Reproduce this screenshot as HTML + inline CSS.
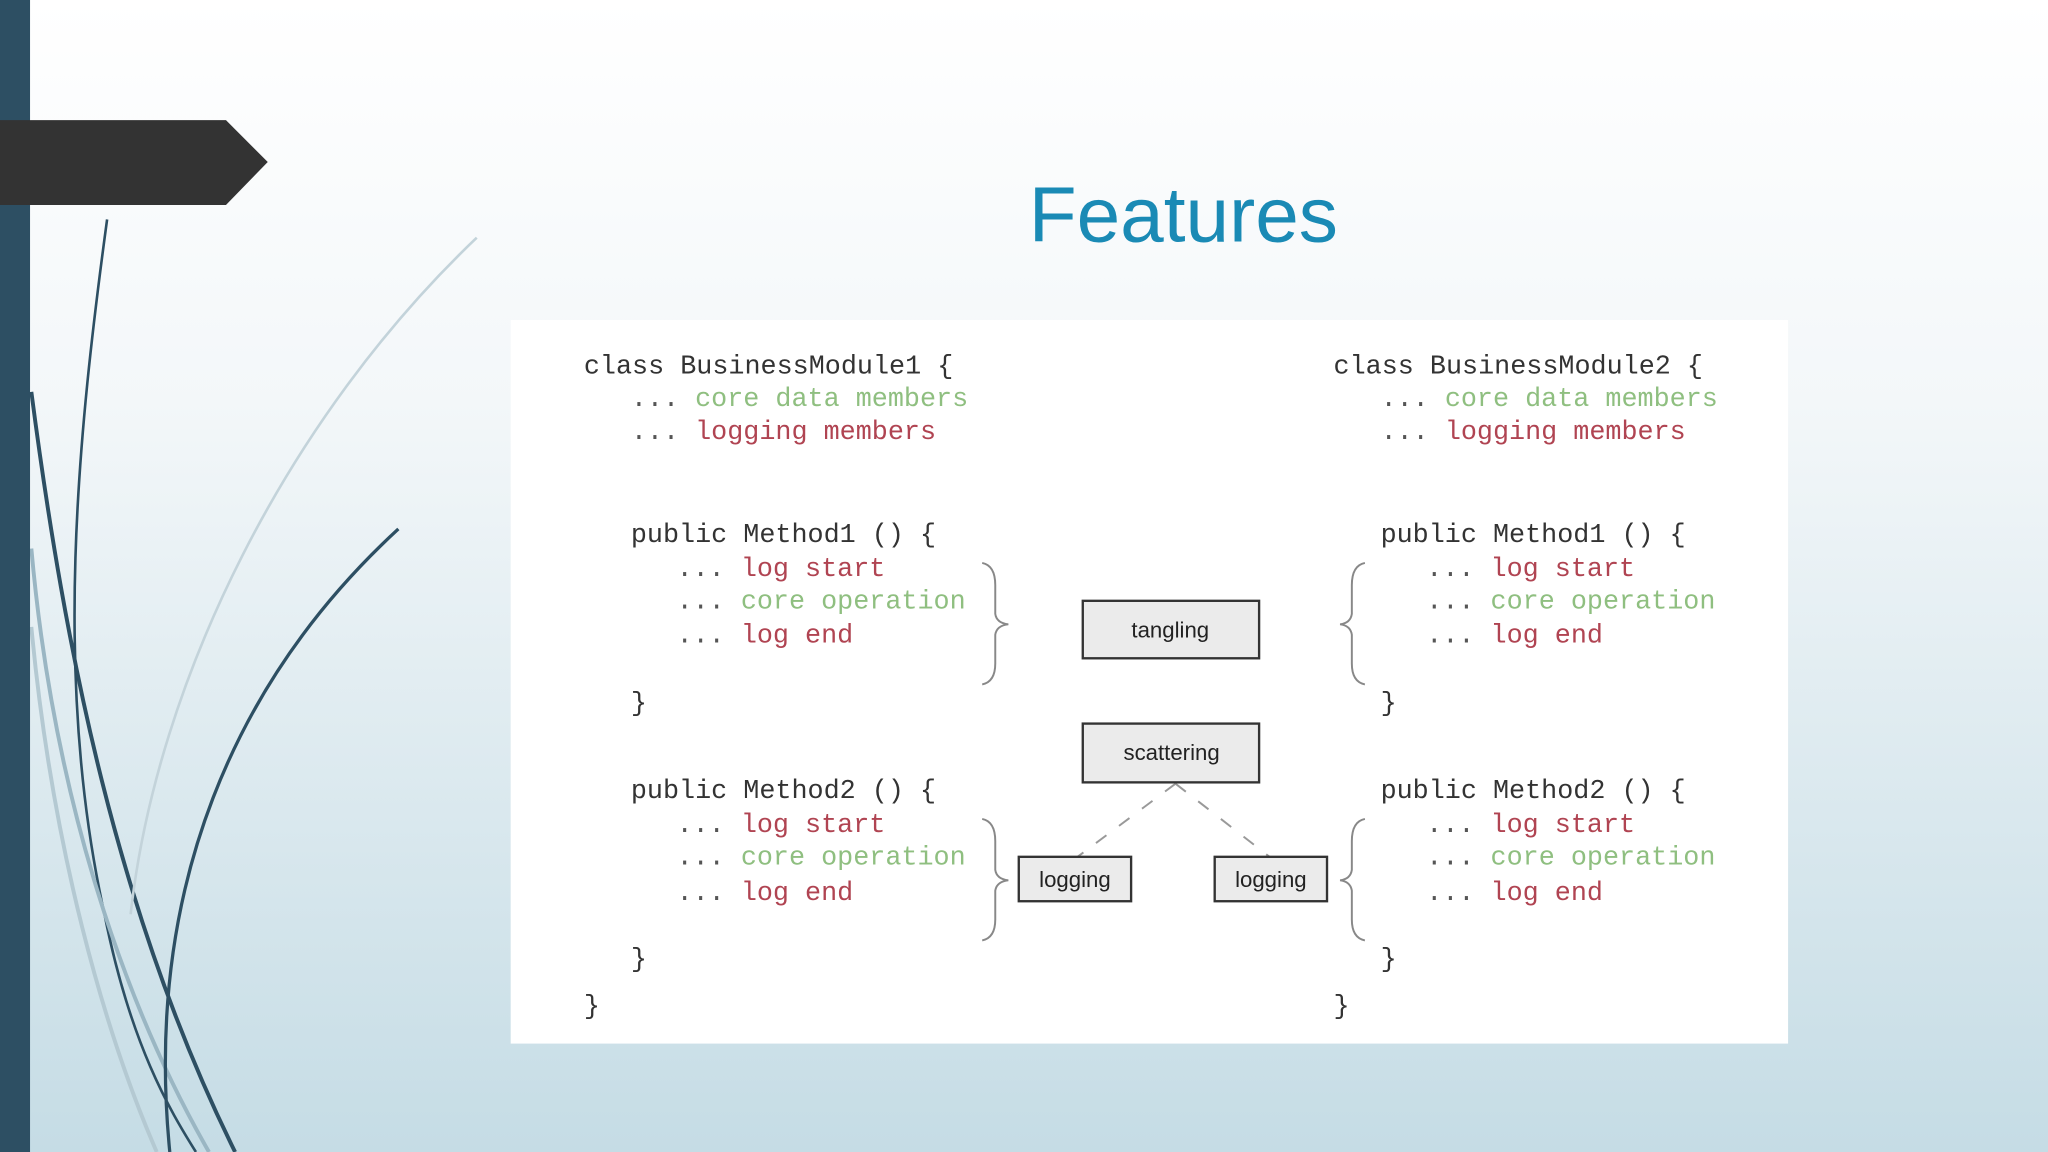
<!DOCTYPE html>
<html><head><meta charset="utf-8">
<style>
html,body{margin:0;padding:0;width:2048px;height:1152px;overflow:hidden;}
svg{display:block}
</style></head>
<body>
<svg width="2048" height="1152" viewBox="0 0 1568 882" xmlns="http://www.w3.org/2000/svg" preserveAspectRatio="none">
<defs>
<linearGradient id="bg" x1="0" y1="0" x2="0" y2="1">
<stop offset="0" stop-color="#ffffff"/>
<stop offset="0.35" stop-color="#f3f7f9"/>
<stop offset="1" stop-color="#c5dce5"/>
</linearGradient>
</defs>
<rect width="1568" height="882" fill="url(#bg)"/>
<!-- decorative curves -->
<path d="M82,168 C60,330 40,520 80,700 C100,800 130,850 150,882" fill="none" stroke="#2d4f63" stroke-width="2"/>
<path d="M24,300 C50,500 90,700 180,882" fill="none" stroke="#2d4f63" stroke-width="3"/>
<path d="M24,420 C40,600 90,760 160,882" fill="none" stroke="#9ab6c3" stroke-width="3"/>
<path d="M24,480 C40,650 80,790 120,882" fill="none" stroke="#b4c9d2" stroke-width="3"/>
<path d="M305,405 C180,520 110,680 130,882" fill="none" stroke="#2d4f63" stroke-width="2.5"/>
<path d="M365,182 C220,320 120,520 100,700" fill="none" stroke="#c3d3da" stroke-width="2"/>
<rect x="0" y="0" width="23" height="882" fill="#2d4f63"/>
<polygon points="0,92 173,92 205,124 173,157 0,157" fill="#333333"/>
<text x="906" y="185" text-anchor="middle" font-family="Liberation Sans, sans-serif" font-size="60" fill="#1a8ab5">Features</text>
<rect x="391" y="245" width="978" height="554" fill="#ffffff"/>
<g font-family="Liberation Mono, monospace" font-size="20.5" fill="#333">
<text x="447" y="286">class BusinessModule1 {</text>
<text x="483" y="311"><tspan fill="#555">...</tspan> <tspan fill="#8fbf80">core data members</tspan></text>
<text x="483" y="336"><tspan fill="#555">...</tspan> <tspan fill="#b04452">logging members</tspan></text>
<text x="483" y="415">public Method1 () {</text>
<text x="518" y="441"><tspan fill="#555">...</tspan> <tspan fill="#b04452">log start</tspan></text>
<text x="518" y="466"><tspan fill="#555">...</tspan> <tspan fill="#8fbf80">core operation</tspan></text>
<text x="518" y="492"><tspan fill="#555">...</tspan> <tspan fill="#b04452">log end</tspan></text>
<text x="483" y="544">}</text>
<text x="483" y="611">public Method2 () {</text>
<text x="518" y="637"><tspan fill="#555">...</tspan> <tspan fill="#b04452">log start</tspan></text>
<text x="518" y="662"><tspan fill="#555">...</tspan> <tspan fill="#8fbf80">core operation</tspan></text>
<text x="518" y="689"><tspan fill="#555">...</tspan> <tspan fill="#b04452">log end</tspan></text>
<text x="483" y="740">}</text>
<text x="447" y="776">}</text>

<text x="1021" y="286">class BusinessModule2 {</text>
<text x="1057" y="311"><tspan fill="#555">...</tspan> <tspan fill="#8fbf80">core data members</tspan></text>
<text x="1057" y="336"><tspan fill="#555">...</tspan> <tspan fill="#b04452">logging members</tspan></text>
<text x="1057" y="415">public Method1 () {</text>
<text x="1092" y="441"><tspan fill="#555">...</tspan> <tspan fill="#b04452">log start</tspan></text>
<text x="1092" y="466"><tspan fill="#555">...</tspan> <tspan fill="#8fbf80">core operation</tspan></text>
<text x="1092" y="492"><tspan fill="#555">...</tspan> <tspan fill="#b04452">log end</tspan></text>
<text x="1057" y="544">}</text>
<text x="1057" y="611">public Method2 () {</text>
<text x="1092" y="637"><tspan fill="#555">...</tspan> <tspan fill="#b04452">log start</tspan></text>
<text x="1092" y="662"><tspan fill="#555">...</tspan> <tspan fill="#8fbf80">core operation</tspan></text>
<text x="1092" y="689"><tspan fill="#555">...</tspan> <tspan fill="#b04452">log end</tspan></text>
<text x="1057" y="740">}</text>
<text x="1021" y="776">}</text>
</g>
<!-- braces -->
<g fill="none" stroke="#888" stroke-width="1.5">
<path d="M752,431 Q762,433 762,448 L762,470 Q763,477 772,478 Q763,479 762,486 L762,508 Q762,522 752,524"/>
<path d="M752,627 Q762,629 762,644 L762,666 Q763,673 772,674 Q763,675 762,682 L762,704 Q762,718 752,720"/>
<path d="M1045,431 Q1035,433 1035,448 L1035,470 Q1034,477 1026,478 Q1034,479 1035,486 L1035,508 Q1035,522 1045,524"/>
<path d="M1045,627 Q1035,629 1035,644 L1035,666 Q1034,673 1026,674 Q1034,675 1035,682 L1035,704 Q1035,718 1045,720"/>
</g>
<g fill="none" stroke="#999" stroke-width="1.5" stroke-dasharray="10,12">
<path d="M900,600 L825,656"/>
<path d="M900,600 L972,656"/>
</g>
<g stroke="#333" stroke-width="1.8" fill="#ebebeb">
<rect x="829" y="460" width="135" height="44"/>
<rect x="829" y="554" width="135" height="45"/>
<rect x="780" y="656" width="86" height="34"/>
<rect x="930" y="656" width="86" height="34"/>
</g>
<g font-family="Liberation Sans, sans-serif" font-size="17" fill="#222" text-anchor="middle">
<text x="896" y="488">tangling</text>
<text x="897" y="582">scattering</text>
<text x="823" y="679">logging</text>
<text x="973" y="679">logging</text>
</g>
</svg>
</body></html>
